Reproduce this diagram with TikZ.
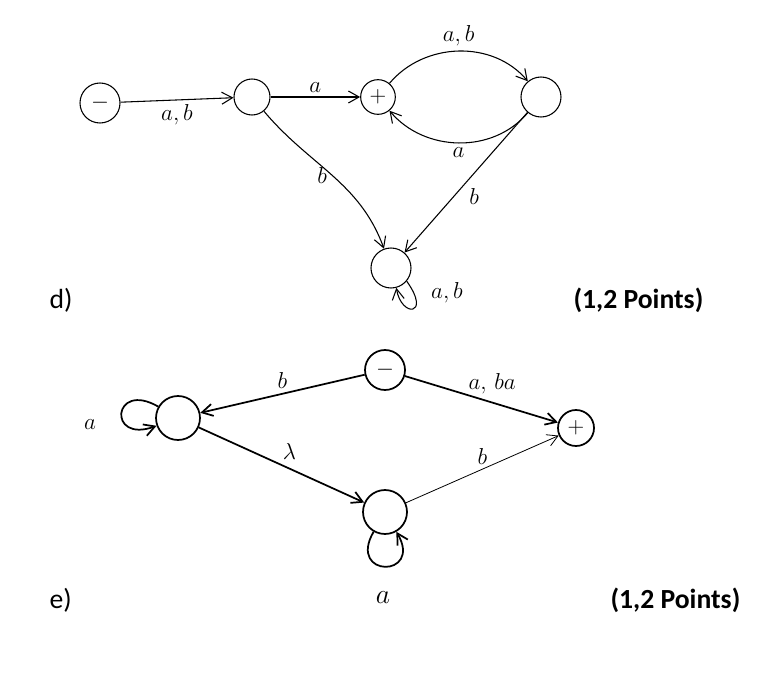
\documentclass[tikz,border=0pt]{standalone}
\usepackage{fontspec}
\newfontfamily\pts{Carlito}
\usetikzlibrary{arrows.meta}
\begin{document}
\begin{tikzpicture}[x=0.75pt,y=-0.75pt,
  st/.style={circle,draw,line width=0.8pt,inner sep=0pt,font=\LARGE},
  ed/.style={draw,line width=0.8pt,-{Straight Barb[length=8pt,width=9pt]}},
  edb/.style={draw,line width=1.3pt,-{Straight Barb[length=8pt,width=9pt]}},
  lb/.style={font=\LARGE},
  pt/.style={font=\pts\bfseries\huge}]
\useasboundingbox (0,0) rectangle (778,684);
% part d
\node[st,minimum size=30pt] (d1) at (100,103) {$-$};
\node[st,minimum size=27pt] (d2) at (252,97) {};
\node[st,minimum size=26pt] (d3) at (378,97) {$+$};
\node[st,minimum size=30pt] (d4) at (541,97) {};
\node[st,minimum size=30pt] (d5) at (391,268) {};
\draw[ed] (d1) -- node[lb,below]{$a,b$} (d2);
\draw[ed] (d2) -- node[lb,above]{$a$} (d3);
\draw[ed] (d3) to[out=50,in=130] node[lb,above]{$a,b$} (d4);
\draw[ed] (d4) to[out=230,in=-50] node[lb,below]{$a$} (d3);
\draw[ed] (d2) to[out=-50,in=110] node[lb,left,pos=0.5]{$b$} (d5);
\draw[ed] (d4) -- node[lb,right,pos=0.6,xshift=8pt]{$b$} (d5);
\draw[ed] (d5.-40) .. controls +(25,35) and +(5,30) .. (d5.-75);
\node[lb] (lab5) at (447,293) {$a,b$};
\node[font=\pts\huge,anchor=west] (ld) at (45,300) {d)};
\node[pt,anchor=east] (pd) at (708,300) {(1,2 Points)};
% part e
\node[st,minimum size=30pt,line width=1.3pt] (e1) at (385,370) {$-$};
\node[st,minimum size=33pt,line width=1.3pt] (e2) at (178,418) {};
\node[st,minimum size=27pt,line width=1.3pt] (e3) at (576,428) {$+$};
\node[st,minimum size=33pt,line width=1.3pt] (e4) at (385,512) {};
\draw[edb] (e1) -- node[lb,above]{$b$} (e2);
\draw[edb] (e1) -- node[lb,above,xshift=8pt]{$a,\,ba$} (e3);
\draw[edb] (e2) -- node[lb,above,xshift=6pt]{$\lambda$} (e4);
\draw[line width=0.6pt,-{Straight Barb[length=8pt,width=9pt]}] (e4) -- node[lb,above]{$b$} (e3);
\draw[edb] (e2.150) to[out=150,in=200,looseness=7] (e2.200);
\node[lb] (la) at (90,425) {$a$};
\draw[edb] (e4.-120) to[out=-120,in=-60,looseness=6] (e4.-60);
\node[font=\huge] (lb2) at (383,598) {$a$};
\node[font=\pts\huge,anchor=west] (le) at (45,600) {e)};
\node[pt,anchor=east] (pe) at (745,600) {(1,2 Points)};
\end{tikzpicture}
\end{document}
